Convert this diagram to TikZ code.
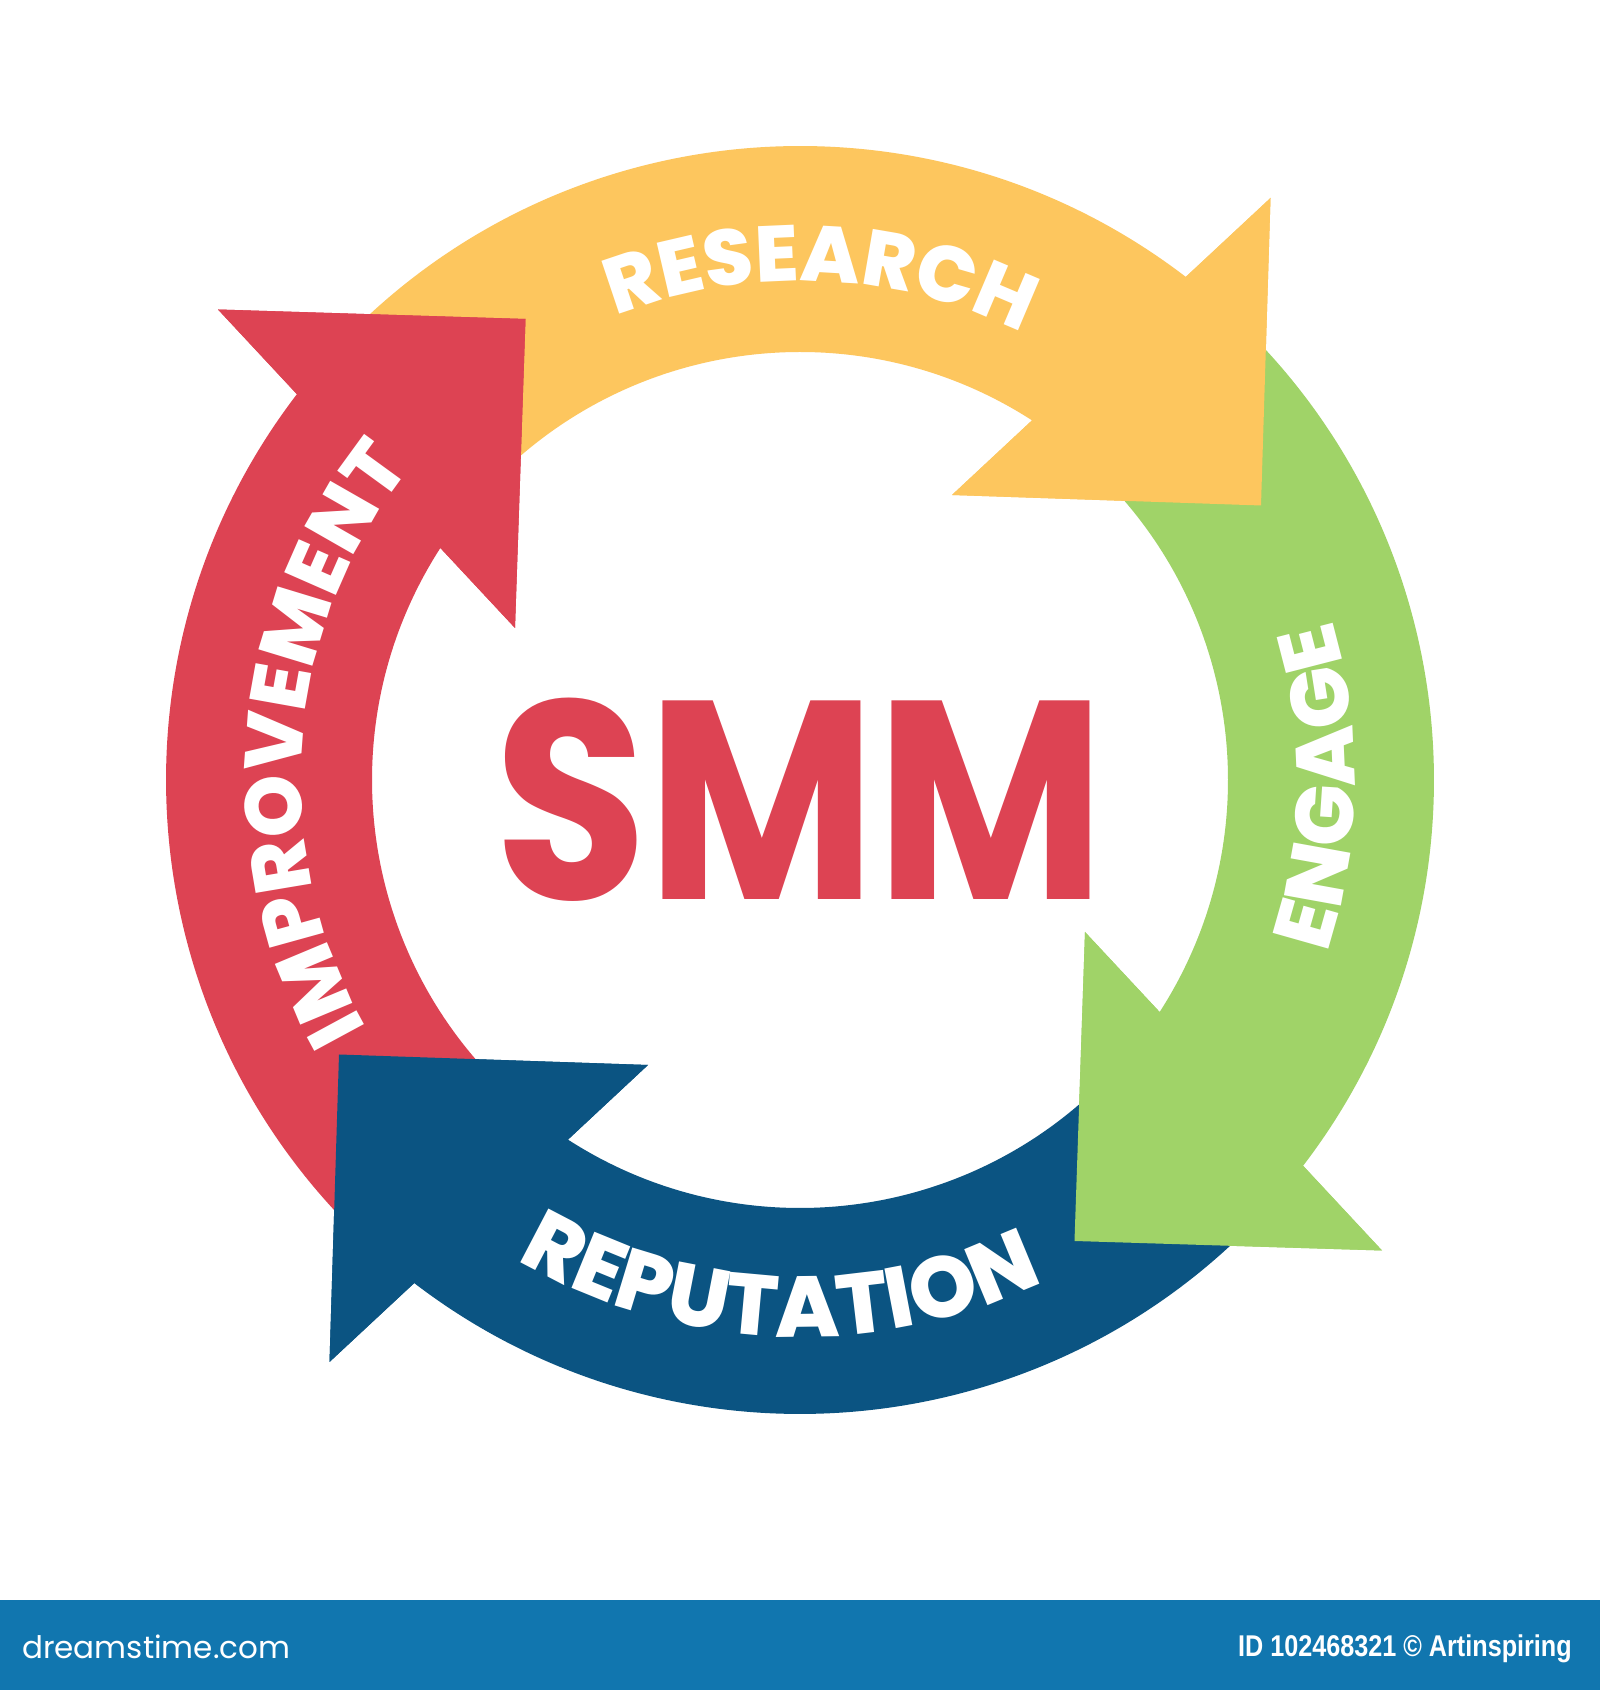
\documentclass[tikz,border=0pt]{standalone}
\usepackage{fontspec}
\setmainfont{Poppins}
\newfontfamily\popfont{Poppins}
\newfontfamily\popheavy{Poppins ExtraBold}
\newfontfamily\idfont{Liberation Sans}
\usetikzlibrary{decorations.text}
\definecolor{smmyellow}{HTML}{FDC65E}
\definecolor{smmgreen}{HTML}{A0D368}
\definecolor{smmblue}{HTML}{0B5482}
\definecolor{smmred}{HTML}{DD4353}
\definecolor{barblue}{HTML}{1176AF}
\newcommand{\ringarrow}[2]{%
  \begin{scope}[shift={(800,910)},rotate=#1]
    \fill[#2] (135:634) arc[start angle=135,end angle=52.52,radius=634]
      -- (470.5,582) -- (461,274.5) -- (152,285) -- (57.17:428)
      arc[start angle=57.17,end angle=135,radius=428] -- cycle;
  \end{scope}}
\newcommand{\ringhead}[2]{%
  \begin{scope}[shift={(800,910)},rotate=#1]
    \fill[#2] (470.5,582) -- (461,274.5) -- (152,285) -- cycle;
  \end{scope}}
\tikzset{
  ringlabel/.style 2 args={decorate,decoration={text along path,text align=center,
    text={|\popheavy\fontsize{#2}{#2}\selectfont\color{white}|#1}}},
}
\begin{document}
\begin{tikzpicture}[x=1pt,y=1pt]
\fill[white] (0,0) rectangle (1600,1690);
\useasboundingbox (0,0) rectangle (1600,1690);
% arrows
\ringarrow{0}{smmyellow}
\ringarrow{-90}{smmgreen}
\ringarrow{-180}{smmblue}
\ringarrow{90}{smmred}
\ringhead{0}{smmyellow}
\ringhead{-90}{smmgreen}
\ringhead{-180}{smmblue}
\ringhead{90}{smmred}
% labels
\path[ringlabel={RESEARCH}{79}] ([shift={(800,910)}]127.6:499) arc[start angle=127.6,end angle=47.6,radius=499];
\path[ringlabel={ENGAGE}{82}] ([shift={(800,910)}]-40.7:555) arc[start angle=-40.7,end angle=39.3,radius=555];
\path[ringlabel={REPUTATION}{86}] ([shift={(800,910)}]222.7:557) arc[start angle=222.7,end angle=312.7,radius=557];
\path[ringlabel={IMPROVEMENT}{80}] ([shift={(800,910)}]231:499) arc[start angle=231,end angle=120,radius=499];
% centre
\node[inner sep=0,text=smmred,font=\popfont\bfseries\fontsize{283}{283}\selectfont] (smm) at (800,890.5) {\scalebox{0.88}[1]{SMM}};
% bottom bar
\fill[barblue] (0,0) rectangle (1600,90);
\node[inner sep=0,anchor=base west,text=white,font=\popfont\fontsize{31}{31}\selectfont] (site) at (22,31) {dreamstime.com};
\node[inner sep=0,anchor=base east,text=white,font=\idfont\bfseries\fontsize{30}{30}\selectfont] (credit) at (1572,33) {\scalebox{0.84}[1]{ID 102468321 © Artinspiring}};
\end{tikzpicture}
\end{document}
